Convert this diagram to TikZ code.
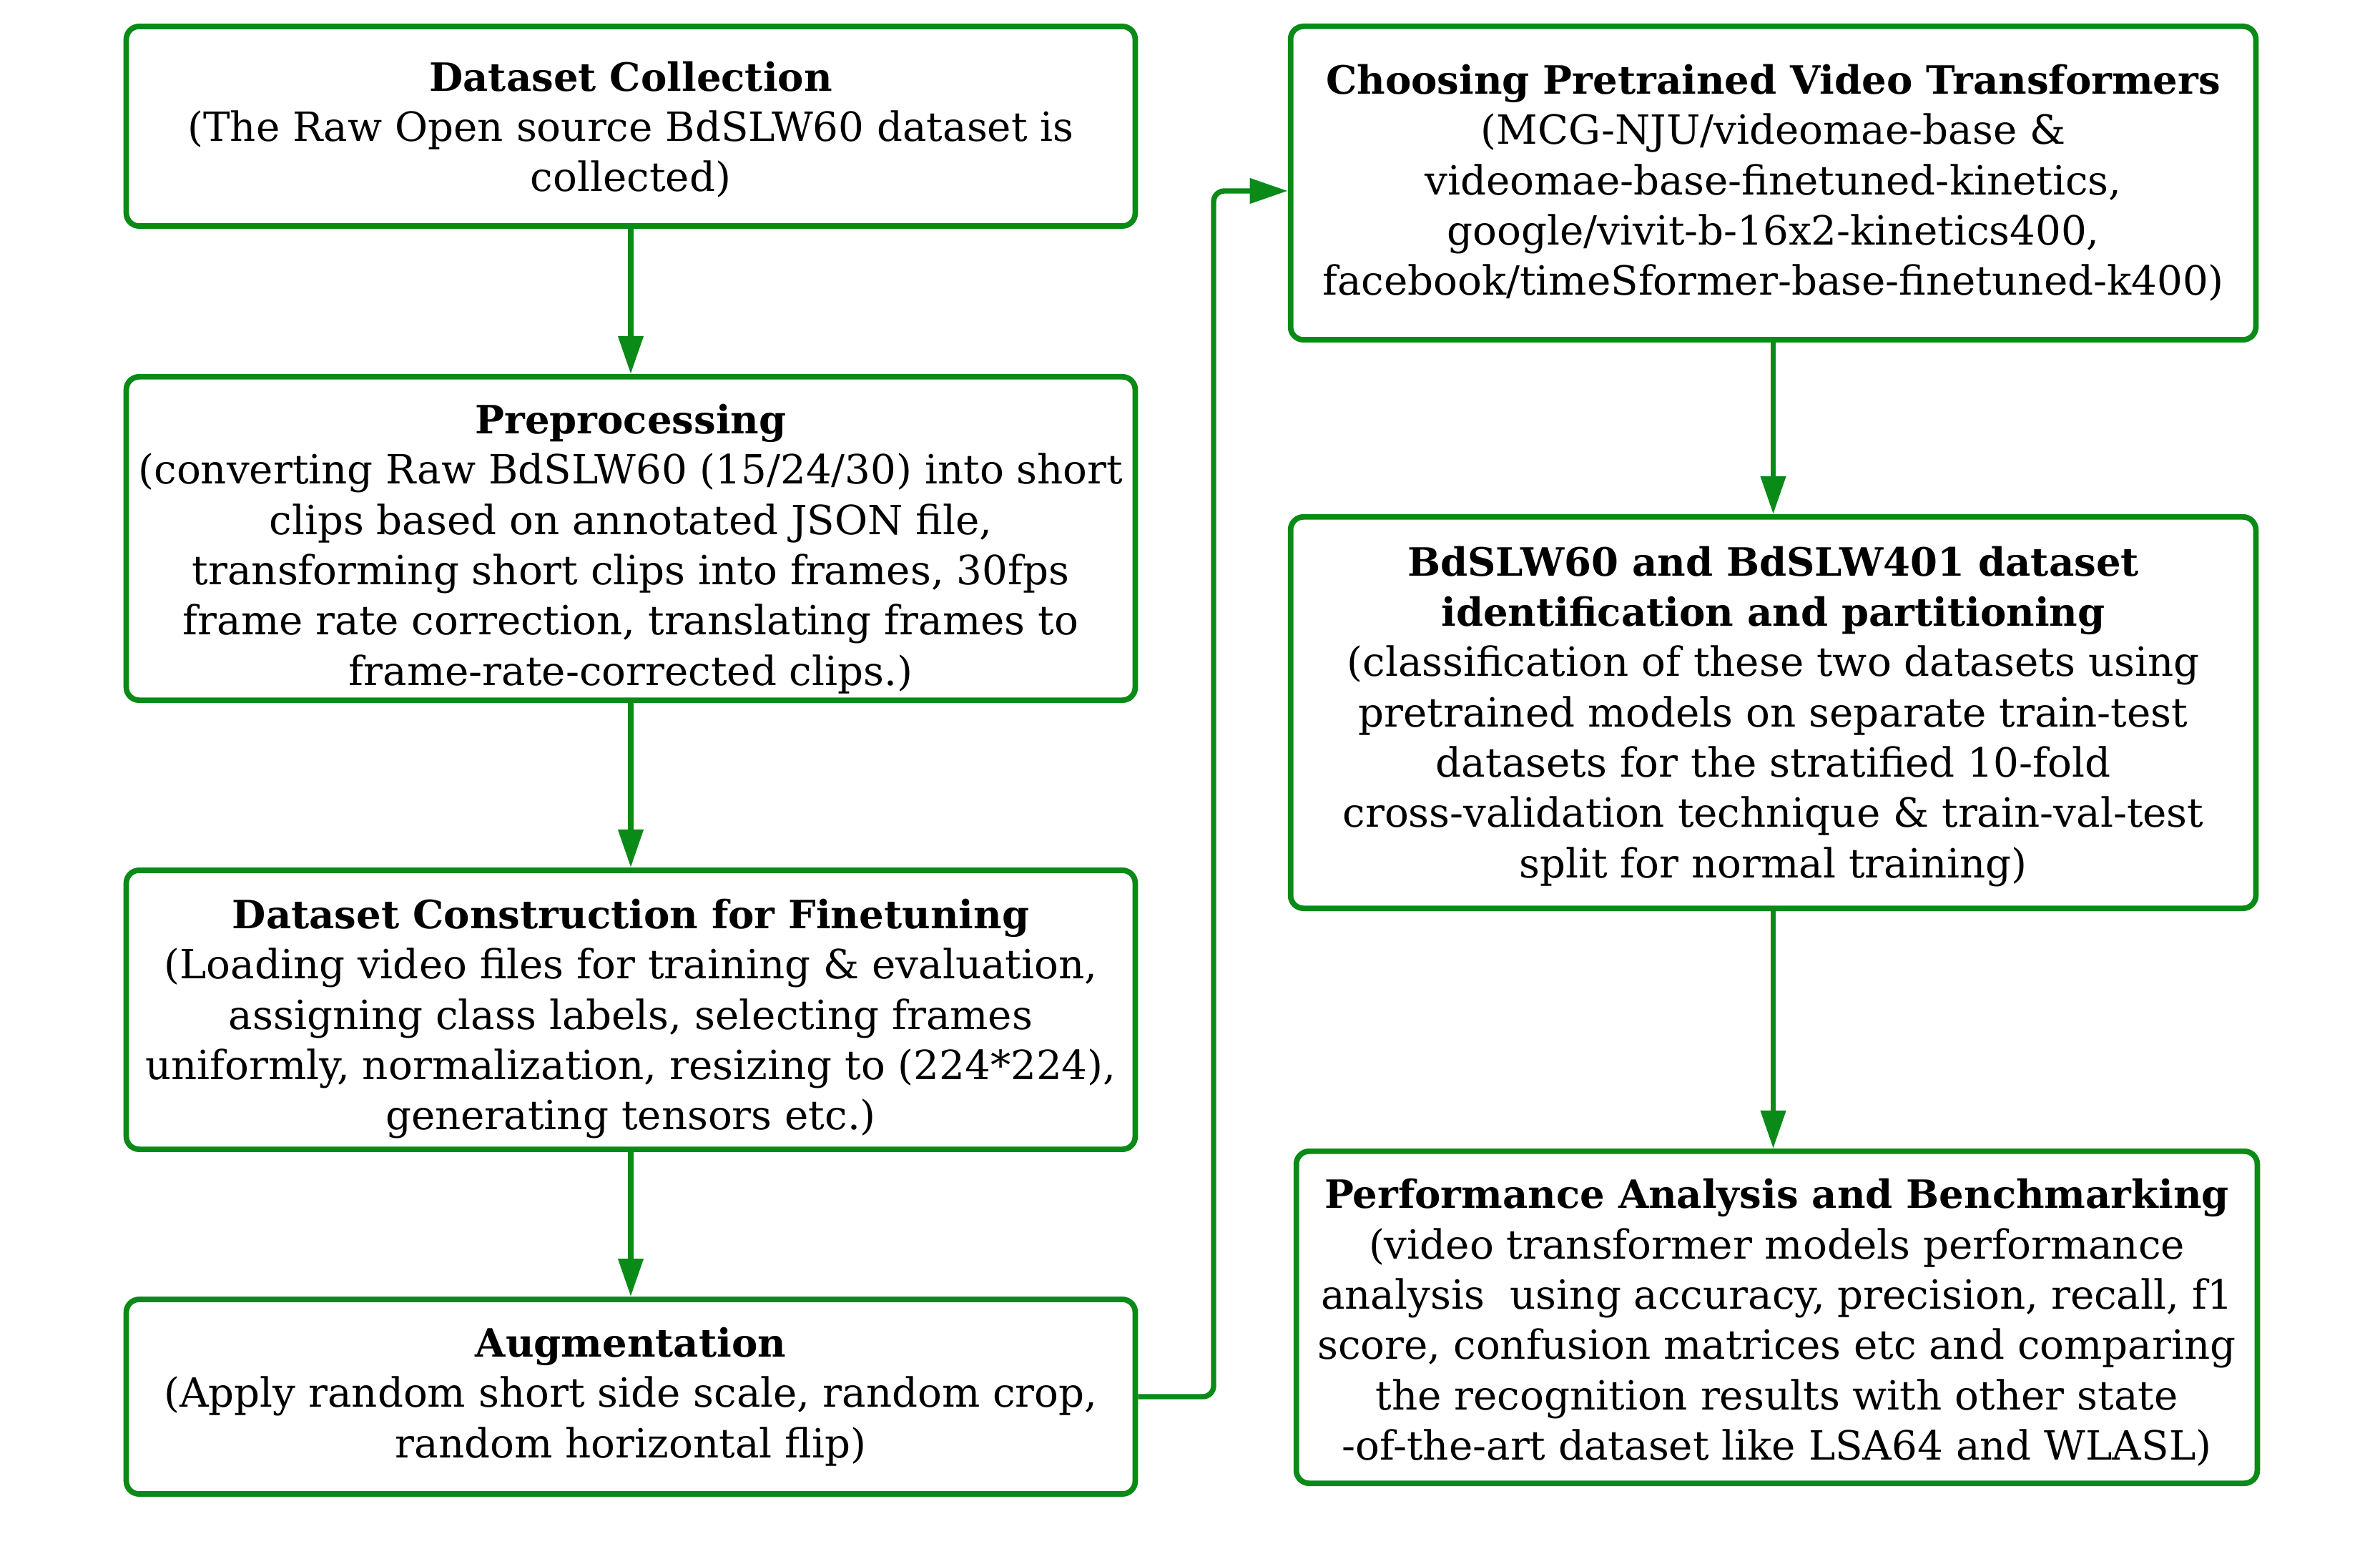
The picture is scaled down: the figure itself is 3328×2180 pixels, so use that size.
\documentclass[tikz,border=0pt]{standalone}
\usepackage{fontspec}
\setmainfont{DejaVu Serif}
\usetikzlibrary{arrows.meta}
\definecolor{boxgreen}{RGB}{10,138,22}
\newcommand{\ttl}[1]{{\fontsize{15.5pt}{20pt}\selectfont\bfseries #1}}
\newcommand{\lowr}[1]{\rule{0pt}{#1}}
\tikzset{
  stepbox/.style={draw=boxgreen, line width=2.2pt, rounded corners=0.18cm, align=center,
    inner sep=0pt, fill=white, text=black,
    font=\fontsize{16pt}{20pt}\selectfont},
  flow/.style={draw=boxgreen, line width=2.1pt, rounded corners=0.15cm,
    -{Triangle[length=5.3mm,width=3.4mm]}}
}
\begin{document}
\begin{tikzpicture}[x=0.01cm, y=-0.01cm]
\useasboundingbox (0,0) rectangle (3328,2180);
\node[stepbox, minimum width=14.10cm, minimum height=2.79cm] (b1) at (882,176.5)
  {\ttl{\lowr{14.5pt}Dataset Collection}\\(The Raw Open source BdSLW60 dataset is\\collected)};
\node[stepbox, minimum width=14.10cm, minimum height=4.52cm] (b2) at (882,753)
  {\ttl{\lowr{20pt}Preprocessing}\\(converting Raw BdSLW60 (15/24/30) into short\\clips based on annotated JSON file,\\transforming short clips into frames, 30fps\\frame rate correction, translating frames to\\frame-rate-corrected clips.)};
\node[stepbox, minimum width=14.10cm, minimum height=3.90cm] (b3) at (882,1412)
  {\ttl{\lowr{19pt}Dataset Construction for Finetuning}\\(Loading video files for training \& evaluation,\\assigning class labels, selecting frames\\uniformly, normalization, resizing to (224*224),\\generating tensors etc.)};
\node[stepbox, minimum width=14.10cm, minimum height=2.72cm] (b4) at (882,1953)
  {\ttl{Augmentation}\\(Apply random short side scale, random crop,\\random horizontal flip)};
\node[stepbox, minimum width=13.49cm, minimum height=4.38cm] (b5) at (2479.5,256)
  {\ttl{Choosing Pretrained Video Transformers}\\(MCG-NJU/videomae-base \&\\videomae-base-finetuned-kinetics,\\google/vivit-b-16x2-kinetics400,\\facebook/timeSformer-base-finetuned-k400)};
\node[stepbox, minimum width=13.49cm, minimum height=5.47cm] (b6) at (2479.5,996.5)
  {\ttl{\lowr{14.8pt}BdSLW60 and BdSLW401 dataset}\\\ttl{identification and partitioning}\\(classification of these two datasets using\\pretrained models on separate train-test\\datasets for the stratified 10-fold\\cross-validation technique \& train-val-test\\split for normal training)};
\node[stepbox, minimum width=13.43cm, minimum height=4.64cm] (b7) at (2484.5,1842)
  {\ttl{\lowr{16pt}Performance Analysis and Benchmarking}\\(video transformer models performance\\analysis\ \ using accuracy, precision, recall, f1\\score, confusion matrices etc and comparing\\the recognition results with other state\\-of-the-art dataset like LSA64 and WLASL)};
\coordinate (elb) at (1697,267);
\draw[flow] (b1.south) -- (b2.north);
\draw[flow] (b2.south) -- (b3.north);
\draw[flow] (b3.south) -- (b4.north);
\draw[flow] (b4.east) -| (elb) -- (elb -| b5.west);
\draw[flow] (b5.south) -- (b6.north);
\draw[flow] (b6.south) -- (b6.south |- b7.north);
\end{tikzpicture}
\end{document}
